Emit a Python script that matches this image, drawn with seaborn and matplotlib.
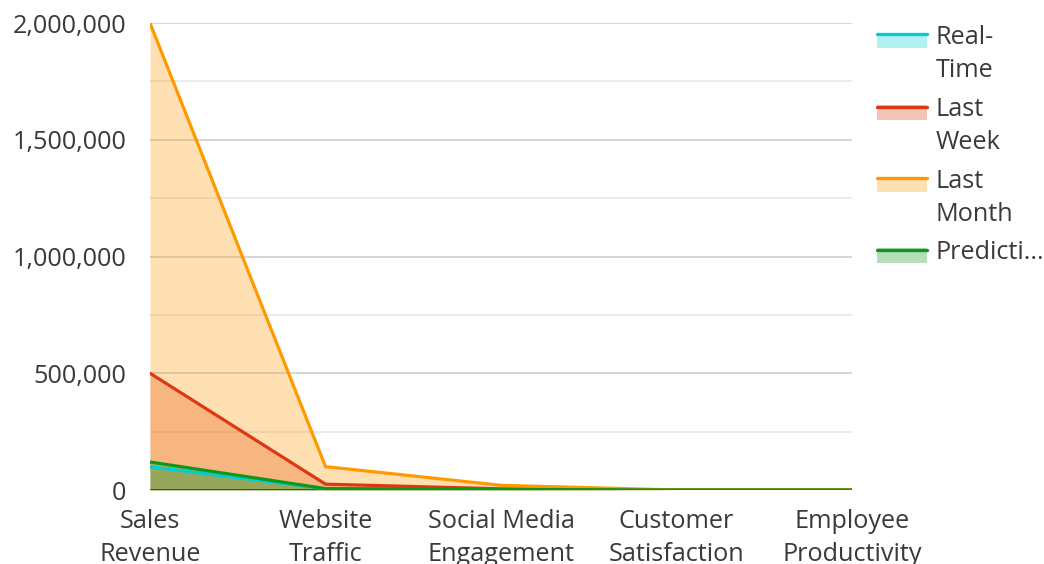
import numpy as np
import pandas as pd
import matplotlib
matplotlib.use("Agg")
import matplotlib.pyplot as plt
from matplotlib.patches import Rectangle
from matplotlib.lines import Line2D
from matplotlib.ticker import FuncFormatter
import seaborn as sns

# ---- data ----
categories = ["Sales\nRevenue", "Website\nTraffic", "Social Media\nEngagement",
              "Customer\nSatisfaction", "Employee\nProductivity"]
series_names = ["Real-Time", "Last Week", "Last Month", "Prediction"]
legend_labels = ["Real-\nTime", "Last\nWeek", "Last\nMonth", "Predicti..."]
real_time = [100000, 5000, 2000, 85, 78]
last_week = [500000, 25000, 5000, 82, 75]
last_month = [2000000, 100000, 20000, 80, 72]
prediction = [120000, 6000, 2500, 88, 80]
colors = ["#00CED1", "#DC3912", "#FF9900", "#109618"]
y_ticks = [0, 500000, 1000000, 1500000, 2000000]
minor_grid = [250000, 750000, 1250000, 1750000]

values = [real_time, last_week, last_month, prediction]
rows = []
for name, vals in zip(series_names, values):
    for i, v in enumerate(vals):
        rows.append({"pos": i, "series": name, "value": v})
df = pd.DataFrame(rows)

sns.set_theme(style="white")
plt.rcParams["font.family"] = ["Open Sans", "DejaVu Sans"]

W, H = 1044, 564
fig = plt.figure(figsize=(W / 100, H / 100), dpi=100)
ax = fig.add_axes([150 / W, 1 - 490 / H, (852 - 150) / W, (490 - 23) / H])

FS = 18.2
LS = 1.42
TXT = "#3a3a3a"

# fills
for name, vals, c in zip(series_names, values, colors):
    ax.fill_between(range(len(vals)), 0, vals, color=c, alpha=0.3, lw=0, zorder=1)

sns.lineplot(data=df, x="pos", y="value", hue="series", hue_order=series_names,
             palette=colors, linewidth=2.3, legend=False, ax=ax, zorder=3)

ax.set_xlim(0, len(categories) - 1)
ax.set_ylim(0, 2000000)
ax.set_xlabel("")
ax.set_ylabel("")

# grid
ax.grid(False)
for yv in y_ticks[1:]:
    ax.axhline(yv, color="#cccccc", lw=1.1, zorder=0.5)
for yv in minor_grid:
    ax.axhline(yv, color="#e6e6e6", lw=1.1, zorder=0.5)
ax.axhline(0, color="#333333", lw=1.8, zorder=2)

for s in ax.spines.values():
    s.set_visible(False)

ax.set_yticks(y_ticks)
ax.yaxis.set_major_formatter(FuncFormatter(lambda v, p: f"{int(v):,}"))
ax.tick_params(axis="y", which="both", length=0, pad=17, labelsize=FS, labelcolor=TXT)
ax.set_xticks(range(len(categories)))
ax.set_xticklabels(categories, linespacing=LS)
ax.tick_params(axis="x", length=0, pad=13.5, labelsize=FS, labelcolor=TXT)

# legend (drawn manually to match layout)
tops = [32.7, 105, 176.7, 248.3]
for lab, c, top in zip(legend_labels, colors, tops):
    fig.add_artist(Rectangle((877 / W, 1 - (top + 15) / H), 50 / W, 15 / H,
                             transform=fig.transFigure, facecolor=c, alpha=0.3,
                             edgecolor="none"))
    fig.add_artist(Line2D([877 / W, 927 / W], [1 - (top + 1.5) / H] * 2,
                          transform=fig.transFigure, color=c, lw=2.4))
    fig.text(936 / W, 1 - (top - 8) / H, lab, fontsize=FS, color=TXT,
             va="top", ha="left", linespacing=LS)

fig.savefig("out.png", dpi=100)
